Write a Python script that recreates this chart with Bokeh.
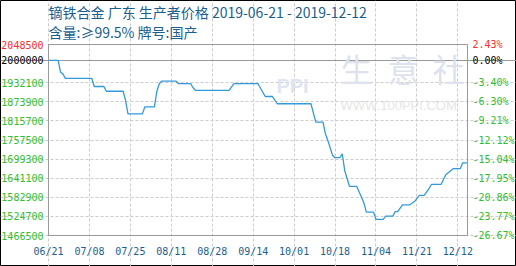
import pandas as pd
from bokeh.plotting import figure
from bokeh.models import (ColumnDataSource, FixedTicker, LinearAxis, Range1d,
                          Label, Grid, BoxAnnotation)
from bokeh.embed import file_html
from bokeh.resources import INLINE

# ---- data ----
dates = ["2019-06-21", "2019-06-25", "2019-06-26", "2019-06-27", "2019-06-28",
         "2019-07-09", "2019-07-10", "2019-07-14", "2019-07-15", "2019-07-22",
         "2019-07-23", "2019-07-24", "2019-07-30", "2019-07-31", "2019-08-04",
         "2019-08-05", "2019-08-06", "2019-08-07", "2019-08-13", "2019-08-14",
         "2019-08-19", "2019-08-20", "2019-08-21", "2019-09-04", "2019-09-06",
         "2019-09-16", "2019-09-18", "2019-09-19", "2019-09-22", "2019-09-24",
         "2019-10-08", "2019-10-10", "2019-10-13", "2019-10-14", "2019-10-15",
         "2019-10-17", "2019-10-18", "2019-10-20", "2019-10-21", "2019-10-22",
         "2019-10-24", "2019-10-27", "2019-10-29", "2019-10-30", "2019-10-31",
         "2019-11-03", "2019-11-04", "2019-11-07", "2019-11-08", "2019-11-11",
         "2019-11-12", "2019-11-13", "2019-11-15", "2019-11-18", "2019-11-20",
         "2019-11-22", "2019-11-24", "2019-11-26", "2019-11-27", "2019-12-01",
         "2019-12-03", "2019-12-06", "2019-12-09", "2019-12-10", "2019-12-12"]
prices = [2000000, 2000000, 1964000, 1959000, 1945000,
          1945000, 1920500, 1920500, 1906000, 1906000,
          1878000, 1837000, 1837000, 1858500, 1858500,
          1906000, 1929000, 1936700, 1936700, 1929000,
          1929000, 1917500, 1908500, 1908500, 1929000,
          1929000, 1903000, 1890000, 1890000, 1868000,
          1868000, 1812000, 1812000, 1776500, 1756000,
          1710000, 1703500, 1703500, 1715500, 1664500,
          1616000, 1616000, 1583000, 1565000, 1537500,
          1537500, 1515500, 1515500, 1525500, 1525500,
          1539500, 1539500, 1560000, 1560000, 1570000,
          1588500, 1588500, 1609000, 1622000, 1622000,
          1651500, 1670000, 1670000, 1688000, 1688000]

x_tick_days = [0, 17, 34, 51, 68, 85, 102, 119, 136, 153, 170]
x_tick_labels = ["06/21", "07/08", "07/25", "08/11", "08/28", "09/14",
                 "10/01", "10/18", "11/04", "11/21", "12/12"]

y_ticks = [1466500, 1524700, 1582900, 1641100, 1699300, 1757500,
           1815700, 1873900, 1932100]
y_pct_labels = ["-26.67%", "-23.77%", "-20.86%", "-17.95%", "-15.04%",
                "-12.12%", "-9.21%", "-6.30%", "-3.40%"]
y_top = 2048500
y_top_pct = "2.43%"
y_base = 2000000
y_base_pct = "0.00%"

title1 = "镝铁合金 广东 生产者价格 2019-06-21 - 2019-12-12"
title2 = "含量:≥99.5% 牌号:国产"

# ---- geometry (pixels) ----
W, H = 516, 266
L, R, T, B = 48, 467, 44, 235          # plot-area edges inside the canvas
X0, X1 = 0, 174                        # day span 06/21 .. 12/12
Y0, Y1 = y_ticks[0], y_top

ppx = (R - L) / (X1 - X0)
ppy = (B - T) / (Y1 - Y0)
x_range = Range1d(X0 - L / ppx, X1 + (W - R) / ppx)
y_range = Range1d(Y0 - (H - B) / ppy, Y1 + T / ppy)

# ---- build ----
start = pd.Timestamp(dates[0])
days = [(pd.Timestamp(d) - start).days for d in dates]
src = ColumnDataSource(dict(x=days, y=prices))

GREEN = "#2fbf2f"
RED = "#ff2a2a"
BLUE_TXT = "#1a5e91"
MONO = "DejaVu Sans Mono"
FS = "10px"

p = figure(width=W, height=H, output_backend="svg", toolbar_location=None,
           x_range=x_range, y_range=y_range, x_axis_location=None,
           y_axis_location=None, min_border=0, title=None)
p.background_fill_color = "white"
p.border_fill_color = "white"
p.outline_line_color = "#000000"
p.outline_line_width = 1
p.xgrid.visible = False
p.ygrid.visible = False


def make_axis(ticks, labels, color, standoff, loc):
    ax = LinearAxis(ticker=FixedTicker(ticks=ticks), fixed_location=loc)
    ax.major_label_overrides = {t: l for t, l in zip(ticks, labels)}
    ax.axis_line_color = None
    ax.major_tick_line_color = None
    ax.minor_tick_line_color = None
    ax.major_tick_out = 0
    ax.major_tick_in = 0
    ax.minor_tick_out = 0
    ax.minor_tick_in = 0
    ax.major_label_text_color = color
    ax.major_label_text_font = MONO
    ax.major_label_text_font_size = FS
    ax.major_label_standoff = standoff
    return ax


# grids limited to the plot area
p.add_layout(Grid(dimension=0, ticker=FixedTicker(ticks=x_tick_days),
                  bounds=(Y0, Y1), grid_line_color="#cccccc",
                  grid_line_dash="3 2"))
p.add_layout(Grid(dimension=1, ticker=FixedTicker(ticks=y_ticks),
                  bounds=(X0, X1), grid_line_color="#cccccc",
                  grid_line_dash="3 2"))
p.add_layout(Grid(dimension=1, ticker=FixedTicker(ticks=[y_base]),
                  bounds=(X0, X1), grid_line_color="#999999"))

# watermark
p.add_layout(Label(x=292, y=85, x_units="canvas", y_units="canvas",
                   text="PPI", text_font="Liberation Sans", text_align="center",
                   text_font_size="20px", text_font_style="bold",
                   text_color="#dfe4f0", text_baseline="alphabetic"))
for cx, ch in [(356, "生"), (403, "意"), (448, "社")]:
    p.add_layout(Label(x=cx, y=67, x_units="canvas", y_units="canvas",
                       text=ch, text_font="Noto Sans CJK SC", text_align="center",
                       text_baseline="middle", text_font_size="32px",
                       text_color="#dde2ec"))
p.add_layout(Label(x=340, y=105, x_units="canvas", y_units="canvas",
                   text="WWW.100PPI.COM", text_font="Liberation Sans",
                   text_font_size="13px", text_color="#e6e6e6",
                   text_baseline="alphabetic"))

# plot-area border
p.add_layout(BoxAnnotation(left=X0, right=X1, bottom=Y0, top=Y1,
                           fill_alpha=0, line_color="#999999", line_width=1,
                           line_alpha=1))

# line
p.line("x", "y", source=src, line_color="#3399dd", line_width=1.3)

# axes
p.add_layout(make_axis(x_tick_days, x_tick_labels, BLUE_TXT, 10, Y0), "below")
p.add_layout(make_axis(y_ticks, [str(t) for t in y_ticks], GREEN, 5, X0), "left")
p.add_layout(make_axis(y_ticks, y_pct_labels, GREEN, 5, X1), "right")
p.add_layout(make_axis([y_top], [str(y_top)], RED, 5, X0), "left")
p.add_layout(make_axis([y_base], [str(y_base)], "#000000", 5, X0), "left")
p.add_layout(make_axis([y_top], [y_top_pct], RED, 5, X1), "right")
p.add_layout(make_axis([y_base], [y_base_pct], "#000000", 5, X1), "right")

# titles
p.add_layout(Label(x=48, y=11, x_units="canvas", y_units="canvas",
                   text=title1, text_font="Noto Sans CJK SC",
                   text_font_size="14px", text_color=BLUE_TXT,
                   text_baseline="middle"))
p.add_layout(Label(x=48, y=31, x_units="canvas", y_units="canvas",
                   text=title2, text_font="Noto Sans CJK SC",
                   text_font_size="14px", text_color=BLUE_TXT,
                   text_baseline="middle"))

open("out.html", "w").write(file_html(p, INLINE))
